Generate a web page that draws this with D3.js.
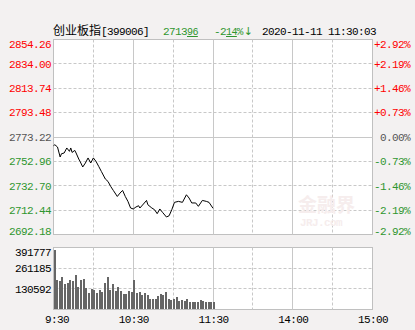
<!DOCTYPE html>
<html>
<head>
<meta charset="utf-8">
<script src="https://cdn.jsdelivr.net/npm/d3@7"></script>
<style>
  body { margin: 0; background: #f3f1f1; }
  svg { display: block; }
  text { font-family: "Liberation Mono", "DejaVu Sans Mono", monospace; font-size: 11px; letter-spacing: -0.6px; }
  .cjk { font-family: "Noto Sans CJK SC", sans-serif; letter-spacing: 0; font-size: 12px; }
  .arrow { font-family: "DejaVu Sans", sans-serif; letter-spacing: 0; }
</style>
</head>
<body>
<svg id="chart" width="415" height="330"></svg>
<script>
// axis labels
var priceTicks = [2854.26, 2834.00, 2813.74, 2793.48, 2773.22, 2752.96, 2732.70, 2712.44, 2692.18];
var pctTicks = ["+2.92%", "+2.19%", "+1.46%", "+0.73%", "0.00%", "-0.73%", "-1.46%", "-2.19%", "-2.92%"];
var volTicks = [391777, 261185, 130592];
var timeLabels = ["9:30", "10:30", "11:30", "14:00", "15:00"];
var timeMinutes = [0, 60, 120, 180, 240];
var prevClose = 2773.22;

// intraday price (minutes since 9:30)
var priceMinutes = [0, 1, 3, 5, 6, 8, 10, 12, 13, 14, 16, 17, 19, 20, 22, 24, 26, 28, 30, 32,
  34, 36, 39, 41, 43, 45, 48, 50, 52, 54, 56, 58, 60, 62, 64, 65, 67, 70, 71, 74,
  76, 78, 80, 82, 85, 87, 89, 91, 94, 97, 100, 102, 104, 107, 109, 112, 115, 117, 120];
var prices = [2766.0, 2766.8, 2764.9, 2756.6, 2759.3, 2759.9, 2764.1, 2761.3, 2764.1, 2760.4,
  2762.1, 2759.9, 2754.9, 2752.9, 2748.3, 2751.6, 2755.8, 2751.6, 2755.8, 2752.9,
  2748.8, 2744.6, 2738.3, 2736.3, 2732.2, 2728.8, 2723.8, 2726.6, 2728.8, 2723.8,
  2719.7, 2714.2, 2713.4, 2715.0, 2716.1, 2714.2, 2716.7, 2720.5, 2716.9, 2714.2,
  2712.8, 2709.5, 2713.4, 2710.6, 2706.7, 2707.8, 2712.8, 2718.9, 2719.7, 2718.9,
  2725.2, 2722.5, 2718.4, 2718.4, 2715.6, 2720.5, 2719.7, 2718.9, 2713.96];

// volume, one bar every 2 minutes
var volumes = [375000, 188000, 182000, 205000, 162000, 168000, 187000, 182000, 220000, 145000,
  187000, 193000, 137000, 103000, 130000, 124000, 103000, 124000, 110000, 166000,
  207000, 124000, 162000, 120000, 141000, 120000, 99000, 99000, 120000, 110000,
  189000, 103000, 110000, 89000, 103000, 89000, 68000, 64000, 68000, 83000,
  95000, 89000, 110000, 68000, 62000, 68000, 79000, 54000, 58000, 54000,
  68000, 48000, 46000, 50000, 46000, 58000, 52000, 48000, 50000, 48000, 50000];

var red = "#ff0000", green = "#2f962f", gray = "#555555";
var left = 53.5, right = 372.5,
    pTop = 39.5, pBottom = 234.5,
    vTop = 247.5, vBottom = 309.5;

var svg = d3.select("#chart");

var x = d3.scaleLinear().domain([0, 240]).range([left, right]);
var y = d3.scaleLinear().domain([priceTicks[priceTicks.length - 1], priceTicks[0]]).range([pBottom, pTop]);
var yv = d3.scaleLinear().domain([0, volTicks[0]]).range([vBottom, vTop]);

function crisp(v) { return Math.round(v - 0.5) + 0.5; }

// title
var title = svg.append("text").attr("x", 53).attr("y", 35);
title.append("tspan").attr("class", "cjk").attr("fill", "#000").text("创业板指");
title.append("tspan").attr("fill", "#000").text("[399006]");
var t2 = svg.append("text").attr("x", 163).attr("y", 35).attr("fill", green);
t2.append("tspan").text("2713");
t2.append("tspan").attr("font-size", "10px").attr("text-decoration", "underline").text("96");
var t3 = svg.append("text").attr("x", 214).attr("y", 35).attr("fill", green);
t3.append("tspan").text("-2");
t3.append("tspan").attr("font-size", "10px").attr("text-decoration", "underline").text("14");
t3.append("tspan").text("%");
t3.append("tspan").attr("class", "arrow").attr("dx", 1).text("↓");
svg.append("text").attr("x", 262).attr("y", 35).attr("fill", "#000").text("2020-11-11 11:30:03");

// panels
[[pTop, pBottom], [vTop, vBottom]].forEach(function(p) {
  svg.append("rect")
      .attr("x", left).attr("y", p[0])
      .attr("width", right - left).attr("height", p[1] - p[0])
      .attr("fill", "#fff").attr("stroke", "#c0c0c0");
});

// vertical grid (every 30 min), solid on the hour marks
var vgrid = d3.range(30, 240, 30);
[[pTop, pBottom], [vTop, vBottom]].forEach(function(p) {
  svg.append("g").selectAll("line").data(vgrid).join("line")
      .attr("x1", d => crisp(x(d))).attr("x2", d => crisp(x(d)))
      .attr("y1", p[0]).attr("y2", p[1])
      .attr("stroke", "#c8c8c8")
      .attr("stroke-dasharray", d => d % 60 === 0 ? null : "3,2");
});

// horizontal price grid
svg.append("g").selectAll("line").data(priceTicks.slice(1, -1)).join("line")
    .attr("x1", left).attr("x2", right)
    .attr("y1", d => crisp(y(d))).attr("y2", d => crisp(y(d)))
    .attr("stroke", "#c8c8c8")
    .attr("stroke-dasharray", d => d === prevClose ? null : "3,2");

// horizontal volume grid
svg.append("g").selectAll("line").data(volTicks.slice(1)).join("line")
    .attr("x1", left).attr("x2", right)
    .attr("y1", d => crisp(yv(d))).attr("y2", d => crisp(yv(d)))
    .attr("stroke", "#c8c8c8").attr("stroke-dasharray", "3,2");

// watermark
svg.append("text").attr("class", "cjk").attr("x", 298).attr("y", 212)
    .attr("font-weight", "bold").attr("fill", "#f6eded")
    .style("font-size", "19px").text("金融界");
svg.append("text").attr("x", 300).attr("y", 226).attr("fill", "#f6eded")
    .attr("font-weight", "bold").text("JRJ.com");

function labelY(v, lo, hi) { return Math.max(lo + 5, Math.min(hi - 3, v)); }

// left price labels
svg.append("g").selectAll("text").data(priceTicks).join("text")
    .attr("x", 51).attr("y", d => labelY(y(d), pTop, pBottom))
    .attr("dy", "0.35em").attr("text-anchor", "end")
    .attr("fill", d => d > prevClose ? red : d < prevClose ? green : gray)
    .text(d => d.toFixed(2));

// right percent labels
svg.append("g").selectAll("text").data(pctTicks).join("text")
    .attr("x", 410).attr("y", (d, i) => labelY(y(priceTicks[i]), pTop, pBottom))
    .attr("dy", "0.35em").attr("text-anchor", "end")
    .attr("fill", d => d[0] === "+" ? red : d[0] === "-" ? green : gray)
    .text(d => d);

// volume labels
svg.append("g").selectAll("text").data(volTicks).join("text")
    .attr("x", 51).attr("y", d => labelY(yv(d), vTop, vBottom))
    .attr("dy", "0.35em").attr("text-anchor", "end").attr("fill", "#000")
    .text(d => d);

// time labels
svg.append("g").selectAll("text").data(timeLabels).join("text")
    .attr("x", (d, i) => x(timeMinutes[i]) + (d.length < 5 ? 3.5 : 0.5))
    .attr("y", 319).attr("dy", "0.35em").attr("text-anchor", "middle").attr("fill", "#000")
    .text(d => d);

// volume bars
svg.append("g").selectAll("rect").data(volumes).join("rect")
    .attr("x", (d, i) => Math.round(x(i * 2)))
    .attr("width", 2)
    .attr("y", d => Math.round(yv(d)))
    .attr("height", d => Math.round(vBottom - 0.5) - Math.round(yv(d)))
    .attr("fill", "#666666")
    .attr("shape-rendering", "crispEdges");

// price line
var line = d3.line()
    .x((d, i) => x(priceMinutes[i]))
    .y(d => y(d));

svg.append("path")
    .datum(prices)
    .attr("d", line)
    .attr("fill", "none")
    .attr("stroke", "#000")
    .attr("stroke-width", 1);
</script>
</body>
</html>
